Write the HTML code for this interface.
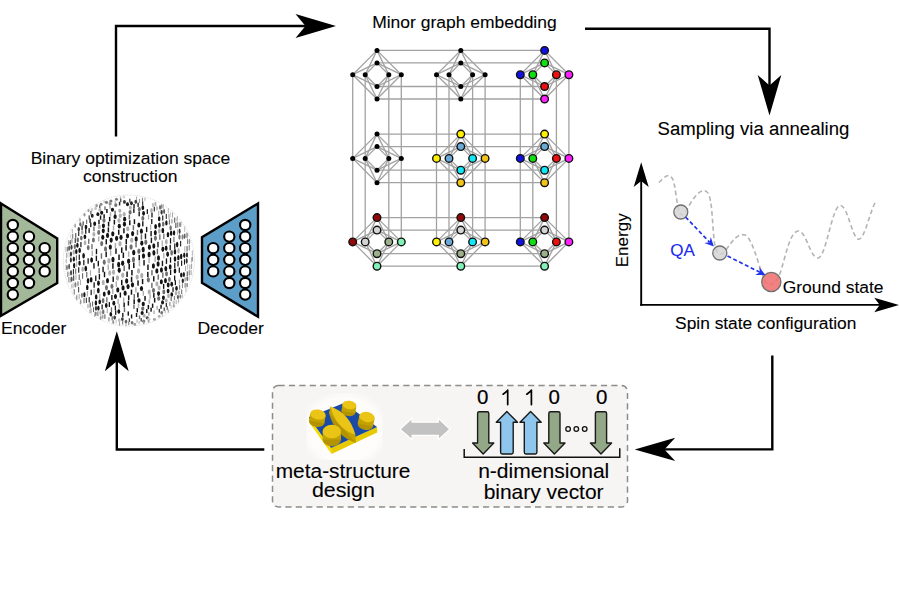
<!DOCTYPE html>
<html><head><meta charset="utf-8"><style>
html,body{margin:0;padding:0;background:#fff;width:900px;height:600px;overflow:hidden;font-family:"Liberation Sans",sans-serif;}
svg{display:block;}
</style></head><body>
<svg width="900" height="600" viewBox="0 0 900 600"><path d="M116 136.5 V26 H307" fill="none" stroke="#000" stroke-width="2.4"/>
<path d="M336.00 26.00 L295.50 37.90 L305.50 26.00 L295.50 14.10 Z" fill="#000"/>
<path d="M585 28.8 H769.5 V87" fill="none" stroke="#000" stroke-width="2.4"/>
<path d="M769.50 115.40 L757.70 74.90 L769.50 85.40 L781.30 74.90 Z" fill="#000"/>
<path d="M772.3 355.6 V449.4 H663" fill="none" stroke="#000" stroke-width="2.4"/>
<path d="M634.70 449.40 L675.20 437.70 L664.40 449.40 L675.20 461.10 Z" fill="#000"/>
<path d="M264.3 449.5 H116.8 V359" fill="none" stroke="#000" stroke-width="2.4"/>
<path d="M116.80 331.30 L128.70 371.30 L116.80 361.30 L104.90 371.30 Z" fill="#000"/>
<text transform="translate(372.19 27.90) scale(1.0105 1)" font-size="17.3" fill="#000" stroke="#000" stroke-width="0.1" font-family="Liberation Sans, sans-serif">Minor graph embedding</text>
<text transform="translate(657.56 135.00) scale(1.0423 1)" font-size="17.8" fill="#000" stroke="#000" stroke-width="0.1" font-family="Liberation Sans, sans-serif">Sampling via annealing</text>
<text transform="translate(30.68 164.40) scale(1.0186 1)" font-size="17.2" fill="#000" stroke="#000" stroke-width="0.1" font-family="Liberation Sans, sans-serif">Binary optimization space</text>
<text transform="translate(82.98 181.70) scale(1.0187 1)" font-size="17.2" fill="#000" stroke="#000" stroke-width="0.1" font-family="Liberation Sans, sans-serif">construction</text>
<text transform="translate(0.98 333.70) scale(1.0190 1)" font-size="17.2" fill="#000" stroke="#000" stroke-width="0.1" font-family="Liberation Sans, sans-serif">Encoder</text>
<text transform="translate(197.38 333.70) scale(1.0219 1)" font-size="17.2" fill="#000" stroke="#000" stroke-width="0.1" font-family="Liberation Sans, sans-serif">Decoder</text>
<polygon points="1,203.4 57.2,238.4 57.2,283.1 1,315.7" fill="#a3b898" stroke="#000" stroke-width="2.4" stroke-linejoin="miter"/>
<polygon points="258,203.5 202,237.3 202,282.8 258,316.7" fill="#5d9ec8" stroke="#000" stroke-width="2.4"/>
<circle cx="12.80" cy="225.00" r="5.15" fill="#fff" stroke="#000" stroke-width="2.1"/>
<circle cx="12.80" cy="236.60" r="5.15" fill="#fff" stroke="#000" stroke-width="2.1"/>
<circle cx="12.80" cy="248.20" r="5.15" fill="#fff" stroke="#000" stroke-width="2.1"/>
<circle cx="12.80" cy="259.80" r="5.15" fill="#fff" stroke="#000" stroke-width="2.1"/>
<circle cx="12.80" cy="271.40" r="5.15" fill="#fff" stroke="#000" stroke-width="2.1"/>
<circle cx="12.80" cy="283.00" r="5.15" fill="#fff" stroke="#000" stroke-width="2.1"/>
<circle cx="12.80" cy="294.60" r="5.15" fill="#fff" stroke="#000" stroke-width="2.1"/>
<circle cx="29.00" cy="236.60" r="5.15" fill="#fff" stroke="#000" stroke-width="2.1"/>
<circle cx="29.00" cy="248.20" r="5.15" fill="#fff" stroke="#000" stroke-width="2.1"/>
<circle cx="29.00" cy="259.80" r="5.15" fill="#fff" stroke="#000" stroke-width="2.1"/>
<circle cx="29.00" cy="271.40" r="5.15" fill="#fff" stroke="#000" stroke-width="2.1"/>
<circle cx="29.00" cy="283.00" r="5.15" fill="#fff" stroke="#000" stroke-width="2.1"/>
<circle cx="44.70" cy="248.20" r="5.15" fill="#fff" stroke="#000" stroke-width="2.1"/>
<circle cx="44.70" cy="259.80" r="5.15" fill="#fff" stroke="#000" stroke-width="2.1"/>
<circle cx="44.70" cy="271.40" r="5.15" fill="#fff" stroke="#000" stroke-width="2.1"/>
<circle cx="213.20" cy="248.20" r="5.15" fill="#fff" stroke="#000" stroke-width="2.1"/>
<circle cx="213.20" cy="259.80" r="5.15" fill="#fff" stroke="#000" stroke-width="2.1"/>
<circle cx="213.20" cy="271.40" r="5.15" fill="#fff" stroke="#000" stroke-width="2.1"/>
<circle cx="229.30" cy="236.60" r="5.15" fill="#fff" stroke="#000" stroke-width="2.1"/>
<circle cx="229.30" cy="248.20" r="5.15" fill="#fff" stroke="#000" stroke-width="2.1"/>
<circle cx="229.30" cy="259.80" r="5.15" fill="#fff" stroke="#000" stroke-width="2.1"/>
<circle cx="229.30" cy="271.40" r="5.15" fill="#fff" stroke="#000" stroke-width="2.1"/>
<circle cx="229.30" cy="283.00" r="5.15" fill="#fff" stroke="#000" stroke-width="2.1"/>
<circle cx="245.20" cy="225.00" r="5.15" fill="#fff" stroke="#000" stroke-width="2.1"/>
<circle cx="245.20" cy="236.60" r="5.15" fill="#fff" stroke="#000" stroke-width="2.1"/>
<circle cx="245.20" cy="248.20" r="5.15" fill="#fff" stroke="#000" stroke-width="2.1"/>
<circle cx="245.20" cy="259.80" r="5.15" fill="#fff" stroke="#000" stroke-width="2.1"/>
<circle cx="245.20" cy="271.40" r="5.15" fill="#fff" stroke="#000" stroke-width="2.1"/>
<circle cx="245.20" cy="283.00" r="5.15" fill="#fff" stroke="#000" stroke-width="2.1"/>
<circle cx="245.20" cy="294.60" r="5.15" fill="#fff" stroke="#000" stroke-width="2.1"/>
<g><circle cx="128.9" cy="260.6" r="65.5" fill="#fff" stroke="#d0d0d0" stroke-width="0.8" stroke-dasharray="1 1"/><rect x="103.46" y="200.25" width="1.43" height="2.72" fill="#d2d2d2"/><ellipse cx="96.63" cy="205.64" rx="1.34" ry="1.53" fill="#999999"/><ellipse cx="101.06" cy="204.29" rx="1.49" ry="1.53" fill="#868686"/><ellipse cx="106.47" cy="202.37" rx="1.58" ry="1.53" fill="#7b7b7b"/><ellipse cx="110.84" cy="200.92" rx="1.60" ry="1.53" fill="#787878"/><ellipse cx="116.46" cy="199.20" rx="1.55" ry="1.53" fill="#7f7f7f"/><rect x="119.85" y="196.57" width="1.34" height="3.05" fill="#b2b2b2"/><ellipse cx="123.98" cy="196.91" rx="1.25" ry="1.53" fill="#d2d2d2"/><ellipse cx="88.54" cy="210.61" rx="1.10" ry="1.69" fill="#a3a3a3"/><ellipse cx="91.92" cy="209.66" rx="1.27" ry="1.69" fill="#cbcbcb"/><ellipse cx="95.54" cy="208.42" rx="1.41" ry="1.69" fill="#c5c5c5"/><rect x="99.05" y="205.24" width="1.42" height="3.37" fill="#5f5f5f"/><ellipse cx="110.13" cy="203.65" rx="1.60" ry="1.69" fill="#8f8f8f"/><rect x="114.68" y="200.38" width="1.48" height="3.37" fill="#bebebe"/><rect x="120.01" y="198.78" width="1.42" height="3.37" fill="#5e5e5e"/><ellipse cx="84.51" cy="214.78" rx="1.07" ry="1.84" fill="#979797"/><rect x="90.29" y="210.94" width="1.26" height="3.68" fill="#606060"/><ellipse cx="99.83" cy="209.74" rx="1.52" ry="1.84" fill="#b6b6b6"/><rect x="104.27" y="206.36" width="1.48" height="3.68" fill="#777777"/><rect x="109.20" y="205.08" width="1.50" height="3.68" fill="#b1b1b1"/><ellipse cx="115.77" cy="205.07" rx="1.59" ry="1.84" fill="#747474"/><rect x="118.87" y="201.78" width="1.46" height="3.68" fill="#2b2b2b"/><ellipse cx="124.43" cy="201.89" rx="1.49" ry="1.84" fill="#3c3c3c"/><rect x="129.14" y="198.76" width="1.32" height="3.68" fill="#525252"/><rect x="135.97" y="196.52" width="1.08" height="3.68" fill="#aeaeae"/><ellipse cx="79.97" cy="219.93" rx="0.98" ry="1.98" fill="#bababa"/><rect x="88.58" y="215.37" width="1.26" height="3.97" fill="#424242"/><ellipse cx="92.24" cy="215.67" rx="1.43" ry="1.98" fill="#252525"/><ellipse cx="97.89" cy="214.14" rx="1.50" ry="1.98" fill="#141414"/><ellipse cx="101.70" cy="212.80" rx="1.56" ry="1.98" fill="#141414"/><rect x="106.17" y="209.00" width="1.49" height="3.97" fill="#141414"/><ellipse cx="112.44" cy="209.75" rx="1.60" ry="1.98" fill="#141414"/><ellipse cx="127.51" cy="204.32" rx="1.51" ry="1.98" fill="#141414"/><ellipse cx="131.45" cy="203.30" rx="1.43" ry="1.98" fill="#242424"/><ellipse cx="135.78" cy="201.69" rx="1.34" ry="1.98" fill="#414141"/><rect x="138.91" y="198.87" width="1.16" height="3.97" fill="#989898"/><rect x="141.90" y="197.74" width="1.05" height="3.97" fill="#7c7c7c"/><ellipse cx="144.92" cy="199.22" rx="0.98" ry="1.98" fill="#cfcfcf"/><ellipse cx="75.18" cy="225.75" rx="0.90" ry="2.12" fill="#a3a3a3"/><ellipse cx="80.35" cy="224.31" rx="1.14" ry="2.12" fill="#646464"/><rect x="82.56" y="221.30" width="1.17" height="4.24" fill="#444444"/><rect x="86.00" y="219.64" width="1.25" height="4.24" fill="#757575"/><rect x="89.43" y="218.69" width="1.33" height="4.24" fill="#141414"/><rect x="99.85" y="215.47" width="1.44" height="4.24" fill="#141414"/><rect x="103.38" y="214.31" width="1.48" height="4.24" fill="#141414"/><rect x="109.76" y="212.27" width="1.50" height="4.24" fill="#afafaf"/><rect x="114.34" y="210.68" width="1.50" height="4.24" fill="#6e6e6e"/><ellipse cx="119.83" cy="210.75" rx="1.59" ry="2.12" fill="#afafaf"/><ellipse cx="130.35" cy="207.64" rx="1.51" ry="2.12" fill="#afafaf"/><rect x="133.34" y="204.07" width="1.36" height="4.24" fill="#141414"/><rect x="137.46" y="202.67" width="1.29" height="4.24" fill="#141414"/><rect x="142.05" y="201.39" width="1.20" height="4.24" fill="#363636"/><rect x="71.88" y="229.02" width="0.81" height="4.49" fill="#a3a3a3"/><ellipse cx="78.78" cy="229.28" rx="1.19" ry="2.25" fill="#414141"/><rect x="81.46" y="225.47" width="1.20" height="4.49" fill="#191919"/><ellipse cx="85.97" cy="227.05" rx="1.36" ry="2.25" fill="#141414"/><rect x="90.12" y="222.65" width="1.34" height="4.49" fill="#141414"/><ellipse cx="94.66" cy="223.81" rx="1.49" ry="2.25" fill="#141414"/><rect x="98.24" y="219.79" width="1.44" height="4.49" fill="#141414"/><ellipse cx="103.95" cy="220.55" rx="1.57" ry="2.25" fill="#6e6e6e"/><rect x="108.92" y="216.88" width="1.49" height="4.49" fill="#141414"/><ellipse cx="115.13" cy="216.84" rx="1.60" ry="2.25" fill="#141414"/><ellipse cx="120.23" cy="215.86" rx="1.59" ry="2.25" fill="#afafaf"/><ellipse cx="124.15" cy="214.25" rx="1.57" ry="2.25" fill="#afafaf"/><ellipse cx="130.10" cy="212.37" rx="1.54" ry="2.25" fill="#6e6e6e"/><rect x="133.15" y="208.40" width="1.40" height="4.49" fill="#141414"/><ellipse cx="139.28" cy="209.36" rx="1.44" ry="2.25" fill="#6e6e6e"/><ellipse cx="142.85" cy="207.70" rx="1.37" ry="2.25" fill="#141414"/><ellipse cx="152.95" cy="205.08" rx="1.10" ry="2.25" fill="#c1c1c1"/><ellipse cx="155.45" cy="203.95" rx="0.99" ry="2.25" fill="#aaaaaa"/><rect x="70.30" y="234.16" width="0.87" height="4.72" fill="#cbcbcb"/><rect x="72.26" y="234.01" width="0.96" height="4.72" fill="#676767"/><rect x="75.24" y="233.02" width="1.05" height="4.72" fill="#454545"/><rect x="78.14" y="231.32" width="1.14" height="4.72" fill="#1d1d1d"/><ellipse cx="82.18" cy="232.47" rx="1.29" ry="2.36" fill="#afafaf"/><rect x="85.13" y="229.04" width="1.28" height="4.72" fill="#141414"/><rect x="88.46" y="228.21" width="1.34" height="4.72" fill="#141414"/><rect x="93.25" y="226.47" width="1.39" height="4.72" fill="#6e6e6e"/><ellipse cx="99.28" cy="226.91" rx="1.53" ry="2.36" fill="#afafaf"/><ellipse cx="103.44" cy="225.80" rx="1.57" ry="2.36" fill="#141414"/><rect x="107.84" y="221.83" width="1.49" height="4.72" fill="#141414"/><rect x="113.62" y="219.81" width="1.50" height="4.72" fill="#141414"/><ellipse cx="118.98" cy="220.57" rx="1.60" ry="2.36" fill="#afafaf"/><ellipse cx="124.66" cy="219.16" rx="1.59" ry="2.36" fill="#141414"/><rect x="128.63" y="214.70" width="1.47" height="4.72" fill="#6e6e6e"/><rect x="138.49" y="211.59" width="1.39" height="4.72" fill="#141414"/><ellipse cx="143.58" cy="213.35" rx="1.43" ry="2.36" fill="#141414"/><rect x="146.67" y="209.21" width="1.28" height="4.72" fill="#141414"/><ellipse cx="151.48" cy="210.31" rx="1.29" ry="2.36" fill="#afafaf"/><rect x="153.73" y="206.69" width="1.13" height="4.72" fill="#212121"/><ellipse cx="157.01" cy="208.26" rx="1.12" ry="2.36" fill="#bbbbbb"/><ellipse cx="160.08" cy="207.44" rx="1.02" ry="2.36" fill="#6a6a6a"/><ellipse cx="161.75" cy="206.55" rx="0.92" ry="2.36" fill="#8b8b8b"/><rect x="163.14" y="204.17" width="0.76" height="4.72" fill="#ababab"/><rect x="67.94" y="240.21" width="0.82" height="4.92" fill="#909090"/><ellipse cx="70.36" cy="242.39" rx="0.98" ry="2.46" fill="#6f6f6f"/><ellipse cx="71.88" cy="241.19" rx="1.07" ry="2.46" fill="#bcbcbc"/><rect x="74.69" y="238.16" width="1.08" height="4.92" fill="#262626"/><ellipse cx="77.76" cy="239.94" rx="1.23" ry="2.46" fill="#6e6e6e"/><ellipse cx="81.32" cy="238.09" rx="1.31" ry="2.46" fill="#6e6e6e"/><ellipse cx="84.92" cy="236.86" rx="1.38" ry="2.46" fill="#141414"/><ellipse cx="93.87" cy="234.36" rx="1.49" ry="2.46" fill="#afafaf"/><ellipse cx="98.72" cy="232.55" rx="1.53" ry="2.46" fill="#6e6e6e"/><ellipse cx="103.27" cy="230.85" rx="1.56" ry="2.46" fill="#141414"/><rect x="107.65" y="227.40" width="1.48" height="4.92" fill="#141414"/><rect x="112.78" y="225.47" width="1.50" height="4.92" fill="#afafaf"/><ellipse cx="119.30" cy="226.15" rx="1.60" ry="2.46" fill="#141414"/><ellipse cx="124.45" cy="224.18" rx="1.59" ry="2.46" fill="#141414"/><rect x="129.05" y="220.27" width="1.48" height="4.92" fill="#141414"/><rect x="133.72" y="219.24" width="1.45" height="4.92" fill="#141414"/><ellipse cx="142.84" cy="218.38" rx="1.47" ry="2.46" fill="#6e6e6e"/><rect x="147.89" y="214.63" width="1.32" height="4.92" fill="#afafaf"/><rect x="151.36" y="212.57" width="1.26" height="4.92" fill="#141414"/><rect x="158.13" y="210.73" width="1.13" height="4.92" fill="#afafaf"/><ellipse cx="161.62" cy="212.24" rx="1.12" ry="2.46" fill="#373737"/><ellipse cx="164.13" cy="211.55" rx="1.03" ry="2.46" fill="#5c5c5c"/><rect x="167.82" y="208.12" width="0.79" height="4.92" fill="#9e9e9e"/><rect x="65.56" y="246.89" width="0.76" height="5.09" fill="#a2a2a2"/><ellipse cx="67.69" cy="249.09" rx="0.90" ry="2.55" fill="#818181"/><ellipse cx="69.17" cy="248.12" rx="0.99" ry="2.55" fill="#5f5f5f"/><ellipse cx="71.50" cy="247.31" rx="1.08" ry="2.55" fill="#3b3b3b"/><ellipse cx="74.82" cy="246.58" rx="1.16" ry="2.55" fill="#6e6e6e"/><ellipse cx="77.41" cy="245.27" rx="1.24" ry="2.55" fill="#141414"/><rect x="80.30" y="242.07" width="1.23" height="5.09" fill="#141414"/><ellipse cx="85.02" cy="242.80" rx="1.37" ry="2.55" fill="#afafaf"/><rect x="88.06" y="238.78" width="1.34" height="5.09" fill="#6e6e6e"/><ellipse cx="93.42" cy="239.97" rx="1.48" ry="2.55" fill="#6e6e6e"/><rect x="97.97" y="236.40" width="1.42" height="5.09" fill="#afafaf"/><ellipse cx="102.77" cy="237.31" rx="1.55" ry="2.55" fill="#141414"/><ellipse cx="107.55" cy="235.39" rx="1.58" ry="2.55" fill="#141414"/><ellipse cx="112.78" cy="233.86" rx="1.59" ry="2.55" fill="#141414"/><rect x="117.97" y="229.67" width="1.50" height="5.09" fill="#141414"/><rect x="123.18" y="228.19" width="1.50" height="5.09" fill="#141414"/><ellipse cx="127.76" cy="228.77" rx="1.59" ry="2.55" fill="#afafaf"/><rect x="132.65" y="225.15" width="1.47" height="5.09" fill="#6e6e6e"/><ellipse cx="138.86" cy="225.06" rx="1.54" ry="2.55" fill="#141414"/><rect x="142.09" y="221.28" width="1.41" height="5.09" fill="#141414"/><rect x="151.11" y="218.96" width="1.31" height="5.09" fill="#141414"/><ellipse cx="159.19" cy="218.78" rx="1.28" ry="2.55" fill="#141414"/><rect x="162.18" y="215.42" width="1.13" height="5.09" fill="#141414"/><rect x="165.75" y="213.84" width="1.05" height="5.09" fill="#242424"/><rect x="168.48" y="213.73" width="0.97" height="5.09" fill="#8e8e8e"/><rect x="169.92" y="212.17" width="0.89" height="5.09" fill="#c5c5c5"/><rect x="172.09" y="212.46" width="0.81" height="5.09" fill="#919191"/><rect x="66.40" y="252.66" width="0.84" height="5.24" fill="#7e7e7e"/><rect x="68.58" y="252.14" width="0.92" height="5.24" fill="#c0c0c0"/><ellipse cx="70.97" cy="254.05" rx="1.07" ry="2.62" fill="#353535"/><ellipse cx="73.76" cy="252.34" rx="1.15" ry="2.62" fill="#afafaf"/><ellipse cx="76.29" cy="251.52" rx="1.22" ry="2.62" fill="#141414"/><ellipse cx="79.64" cy="250.46" rx="1.29" ry="2.62" fill="#141414"/><ellipse cx="88.23" cy="247.52" rx="1.41" ry="2.62" fill="#6e6e6e"/><rect x="91.29" y="244.04" width="1.37" height="5.24" fill="#6e6e6e"/><ellipse cx="101.71" cy="243.57" rx="1.54" ry="2.62" fill="#6e6e6e"/><rect x="105.54" y="239.11" width="1.47" height="5.24" fill="#141414"/><ellipse cx="111.21" cy="240.02" rx="1.58" ry="2.62" fill="#141414"/><ellipse cx="116.61" cy="238.26" rx="1.60" ry="2.62" fill="#141414"/><ellipse cx="121.00" cy="237.32" rx="1.60" ry="2.62" fill="#141414"/><ellipse cx="127.52" cy="235.78" rx="1.60" ry="2.62" fill="#141414"/><ellipse cx="132.61" cy="233.54" rx="1.58" ry="2.62" fill="#141414"/><rect x="136.73" y="229.85" width="1.46" height="5.24" fill="#6e6e6e"/><ellipse cx="141.42" cy="231.15" rx="1.53" ry="2.62" fill="#141414"/><rect x="145.93" y="226.86" width="1.40" height="5.24" fill="#141414"/><rect x="149.92" y="224.54" width="1.36" height="5.24" fill="#afafaf"/><ellipse cx="155.64" cy="226.53" rx="1.40" ry="2.62" fill="#141414"/><ellipse cx="159.38" cy="225.01" rx="1.34" ry="2.62" fill="#141414"/><ellipse cx="163.22" cy="224.05" rx="1.28" ry="2.62" fill="#6e6e6e"/><ellipse cx="166.39" cy="222.92" rx="1.21" ry="2.62" fill="#141414"/><rect x="168.86" y="219.29" width="1.06" height="5.24" fill="#6e6e6e"/><ellipse cx="171.84" cy="221.17" rx="1.06" ry="2.62" fill="#b8b8b8"/><rect x="173.96" y="217.54" width="0.91" height="5.24" fill="#606060"/><ellipse cx="176.00" cy="219.58" rx="0.89" ry="2.62" fill="#cacaca"/><rect x="176.93" y="216.09" width="0.75" height="5.24" fill="#a3a3a3"/><ellipse cx="66.29" cy="260.86" rx="0.90" ry="2.68" fill="#c8c8c8"/><ellipse cx="70.86" cy="259.93" rx="1.06" ry="2.68" fill="#313131"/><ellipse cx="73.84" cy="259.17" rx="1.14" ry="2.68" fill="#141414"/><rect x="75.84" y="255.27" width="1.13" height="5.35" fill="#6e6e6e"/><rect x="78.69" y="254.51" width="1.20" height="5.35" fill="#141414"/><ellipse cx="83.59" cy="255.73" rx="1.34" ry="2.68" fill="#141414"/><rect x="91.62" y="250.56" width="1.35" height="5.35" fill="#afafaf"/><rect x="95.79" y="248.82" width="1.39" height="5.35" fill="#141414"/><ellipse cx="105.53" cy="248.90" rx="1.55" ry="2.68" fill="#6e6e6e"/><ellipse cx="110.32" cy="247.10" rx="1.58" ry="2.68" fill="#141414"/><rect x="114.66" y="242.88" width="1.49" height="5.35" fill="#afafaf"/><ellipse cx="120.01" cy="243.60" rx="1.60" ry="2.68" fill="#afafaf"/><rect x="125.53" y="238.97" width="1.50" height="5.35" fill="#141414"/><ellipse cx="131.74" cy="240.24" rx="1.59" ry="2.68" fill="#afafaf"/><ellipse cx="136.21" cy="239.04" rx="1.58" ry="2.68" fill="#141414"/><rect x="140.71" y="234.34" width="1.45" height="5.35" fill="#6e6e6e"/><rect x="144.76" y="233.44" width="1.43" height="5.35" fill="#141414"/><rect x="150.40" y="230.93" width="1.39" height="5.35" fill="#141414"/><ellipse cx="155.32" cy="232.58" rx="1.44" ry="2.68" fill="#141414"/><ellipse cx="159.31" cy="230.96" rx="1.39" ry="2.68" fill="#afafaf"/><ellipse cx="162.84" cy="230.42" rx="1.33" ry="2.68" fill="#141414"/><ellipse cx="170.63" cy="227.82" rx="1.20" ry="2.68" fill="#6e6e6e"/><rect x="175.38" y="222.71" width="0.99" height="5.35" fill="#353535"/><rect x="177.34" y="222.18" width="0.91" height="5.35" fill="#5c5c5c"/><ellipse cx="180.06" cy="224.38" rx="0.89" ry="2.68" fill="#7e7e7e"/><rect x="180.81" y="221.26" width="0.75" height="5.35" fill="#bcbcbc"/><rect x="65.30" y="264.64" width="0.76" height="5.43" fill="#cfcfcf"/><ellipse cx="66.97" cy="267.55" rx="0.89" ry="2.72" fill="#787878"/><ellipse cx="69.17" cy="266.57" rx="0.98" ry="2.72" fill="#555555"/><ellipse cx="74.16" cy="265.46" rx="1.13" ry="2.72" fill="#141414"/><rect x="76.15" y="261.54" width="1.13" height="5.43" fill="#afafaf"/><ellipse cx="79.57" cy="263.10" rx="1.27" ry="2.72" fill="#141414"/><rect x="83.19" y="259.84" width="1.25" height="5.43" fill="#141414"/><rect x="87.49" y="258.27" width="1.30" height="5.43" fill="#141414"/><ellipse cx="91.62" cy="259.97" rx="1.43" ry="2.72" fill="#141414"/><rect x="95.69" y="255.62" width="1.39" height="5.43" fill="#141414"/><rect x="100.74" y="253.31" width="1.42" height="5.43" fill="#6e6e6e"/><rect x="105.45" y="251.67" width="1.45" height="5.43" fill="#141414"/><rect x="109.91" y="250.23" width="1.47" height="5.43" fill="#afafaf"/><rect x="115.23" y="248.42" width="1.49" height="5.43" fill="#141414"/><rect x="120.98" y="247.41" width="1.50" height="5.43" fill="#141414"/><rect x="125.33" y="245.14" width="1.50" height="5.43" fill="#141414"/><ellipse cx="131.09" cy="247.08" rx="1.59" ry="2.72" fill="#6e6e6e"/><rect x="135.30" y="241.95" width="1.48" height="5.43" fill="#6e6e6e"/><ellipse cx="141.80" cy="243.15" rx="1.56" ry="2.72" fill="#141414"/><ellipse cx="145.81" cy="242.21" rx="1.54" ry="2.72" fill="#6e6e6e"/><rect x="150.70" y="237.62" width="1.41" height="5.43" fill="#141414"/><ellipse cx="155.44" cy="238.31" rx="1.46" ry="2.72" fill="#6e6e6e"/><rect x="159.17" y="234.36" width="1.33" height="5.43" fill="#6e6e6e"/><rect x="163.18" y="233.59" width="1.28" height="5.43" fill="#6e6e6e"/><ellipse cx="167.95" cy="234.61" rx="1.31" ry="2.72" fill="#141414"/><ellipse cx="171.13" cy="233.29" rx="1.24" ry="2.72" fill="#141414"/><ellipse cx="174.08" cy="232.85" rx="1.17" ry="2.72" fill="#141414"/><rect x="176.97" y="229.34" width="1.03" height="5.43" fill="#afafaf"/><ellipse cx="179.61" cy="231.18" rx="1.02" ry="2.72" fill="#3d3d3d"/><rect x="184.40" y="226.47" width="0.73" height="5.43" fill="#a6a6a6"/><rect x="67.08" y="271.59" width="0.79" height="5.48" fill="#8c8c8c"/><ellipse cx="68.86" cy="274.08" rx="0.92" ry="2.74" fill="#c4c4c4"/><ellipse cx="71.01" cy="272.75" rx="1.00" ry="2.74" fill="#464646"/><rect x="72.89" y="269.10" width="1.01" height="5.48" fill="#181818"/><rect x="75.15" y="268.44" width="1.08" height="5.48" fill="#6e6e6e"/><rect x="78.15" y="267.23" width="1.14" height="5.48" fill="#141414"/><ellipse cx="82.64" cy="269.22" rx="1.28" ry="2.74" fill="#afafaf"/><ellipse cx="85.78" cy="268.41" rx="1.34" ry="2.74" fill="#141414"/><rect x="93.28" y="263.17" width="1.36" height="5.48" fill="#141414"/><rect x="97.62" y="260.85" width="1.39" height="5.48" fill="#141414"/><ellipse cx="104.25" cy="262.36" rx="1.52" ry="2.74" fill="#6e6e6e"/><ellipse cx="108.87" cy="260.70" rx="1.55" ry="2.74" fill="#afafaf"/><ellipse cx="112.98" cy="259.40" rx="1.57" ry="2.74" fill="#141414"/><rect x="118.27" y="254.53" width="1.49" height="5.48" fill="#141414"/><rect x="122.60" y="252.49" width="1.50" height="5.48" fill="#141414"/><rect x="127.92" y="251.37" width="1.50" height="5.48" fill="#afafaf"/><ellipse cx="133.75" cy="252.49" rx="1.59" ry="2.74" fill="#141414"/><ellipse cx="138.90" cy="251.31" rx="1.58" ry="2.74" fill="#6e6e6e"/><ellipse cx="143.20" cy="249.48" rx="1.56" ry="2.74" fill="#141414"/><ellipse cx="149.42" cy="247.33" rx="1.53" ry="2.74" fill="#141414"/><ellipse cx="153.80" cy="246.05" rx="1.50" ry="2.74" fill="#141414"/><rect x="157.29" y="241.83" width="1.37" height="5.48" fill="#141414"/><rect x="161.60" y="240.47" width="1.33" height="5.48" fill="#afafaf"/><ellipse cx="166.32" cy="241.83" rx="1.36" ry="2.74" fill="#afafaf"/><rect x="169.91" y="238.09" width="1.22" height="5.48" fill="#141414"/><rect x="173.33" y="236.79" width="1.16" height="5.48" fill="#6e6e6e"/><ellipse cx="179.50" cy="236.93" rx="1.10" ry="2.74" fill="#6e6e6e"/><ellipse cx="182.55" cy="236.92" rx="1.03" ry="2.74" fill="#828282"/><ellipse cx="184.60" cy="236.14" rx="0.95" ry="2.74" fill="#5e5e5e"/><rect x="185.83" y="232.56" width="0.81" height="5.48" fill="#818181"/><ellipse cx="187.44" cy="235.31" rx="0.79" ry="2.74" fill="#a2a2a2"/><rect x="68.03" y="276.94" width="0.76" height="5.50" fill="#989898"/><rect x="69.61" y="277.07" width="0.84" height="5.50" fill="#777777"/><ellipse cx="71.66" cy="279.32" rx="0.97" ry="2.75" fill="#535353"/><rect x="73.21" y="275.28" width="0.98" height="5.50" fill="#2b2b2b"/><rect x="75.40" y="274.44" width="1.05" height="5.50" fill="#afafaf"/><rect x="78.66" y="274.46" width="1.12" height="5.50" fill="#6e6e6e"/><rect x="81.99" y="273.20" width="1.18" height="5.50" fill="#6e6e6e"/><rect x="86.11" y="272.00" width="1.24" height="5.50" fill="#6e6e6e"/><rect x="89.84" y="270.28" width="1.29" height="5.50" fill="#afafaf"/><rect x="98.42" y="267.93" width="1.38" height="5.50" fill="#6e6e6e"/><rect x="102.35" y="266.70" width="1.41" height="5.50" fill="#141414"/><rect x="107.51" y="264.49" width="1.44" height="5.50" fill="#afafaf"/><rect x="112.18" y="263.23" width="1.47" height="5.50" fill="#141414"/><ellipse cx="118.67" cy="264.49" rx="1.58" ry="2.75" fill="#141414"/><ellipse cx="122.67" cy="263.22" rx="1.60" ry="2.75" fill="#141414"/><ellipse cx="128.63" cy="261.29" rx="1.60" ry="2.75" fill="#141414"/><ellipse cx="133.46" cy="259.61" rx="1.60" ry="2.75" fill="#6e6e6e"/><rect x="138.49" y="254.88" width="1.49" height="5.50" fill="#141414"/><ellipse cx="143.48" cy="255.97" rx="1.57" ry="2.75" fill="#141414"/><ellipse cx="149.09" cy="254.43" rx="1.55" ry="2.75" fill="#141414"/><ellipse cx="153.90" cy="252.86" rx="1.52" ry="2.75" fill="#141414"/><rect x="156.70" y="248.66" width="1.39" height="5.50" fill="#6e6e6e"/><ellipse cx="162.83" cy="249.24" rx="1.44" ry="2.75" fill="#141414"/><ellipse cx="166.14" cy="248.19" rx="1.39" ry="2.75" fill="#141414"/><rect x="169.57" y="244.82" width="1.25" height="5.50" fill="#141414"/><rect x="174.18" y="243.43" width="1.19" height="5.50" fill="#141414"/><ellipse cx="177.17" cy="244.53" rx="1.21" ry="2.75" fill="#141414"/><rect x="180.10" y="240.92" width="1.07" height="5.50" fill="#141414"/><rect x="187.11" y="238.60" width="0.85" height="5.50" fill="#6e6e6e"/><ellipse cx="189.41" cy="241.40" rx="0.83" ry="2.75" fill="#909090"/><ellipse cx="71.82" cy="286.23" rx="0.87" ry="2.74" fill="#c9c9c9"/><rect x="72.73" y="282.70" width="0.89" height="5.48" fill="#c1c1c1"/><ellipse cx="75.38" cy="284.69" rx="1.03" ry="2.74" fill="#828282"/><ellipse cx="77.92" cy="283.71" rx="1.10" ry="2.74" fill="#afafaf"/><rect x="79.92" y="279.63" width="1.10" height="5.48" fill="#afafaf"/><ellipse cx="88.02" cy="280.76" rx="1.31" ry="2.74" fill="#141414"/><ellipse cx="91.14" cy="279.80" rx="1.36" ry="2.74" fill="#141414"/><rect x="95.11" y="275.56" width="1.33" height="5.48" fill="#141414"/><rect x="98.71" y="274.04" width="1.37" height="5.48" fill="#141414"/><rect x="103.81" y="271.78" width="1.41" height="5.48" fill="#141414"/><ellipse cx="109.69" cy="273.11" rx="1.53" ry="2.74" fill="#afafaf"/><ellipse cx="113.52" cy="272.15" rx="1.56" ry="2.74" fill="#afafaf"/><ellipse cx="119.23" cy="270.30" rx="1.58" ry="2.74" fill="#141414"/><rect x="123.45" y="265.55" width="1.49" height="5.48" fill="#6e6e6e"/><rect x="128.46" y="263.93" width="1.50" height="5.48" fill="#141414"/><rect x="133.04" y="262.60" width="1.50" height="5.48" fill="#141414"/><rect x="138.68" y="260.83" width="1.49" height="5.48" fill="#afafaf"/><rect x="143.30" y="260.05" width="1.48" height="5.48" fill="#141414"/><rect x="148.38" y="257.60" width="1.45" height="5.48" fill="#afafaf"/><rect x="154.48" y="256.46" width="1.43" height="5.48" fill="#afafaf"/><ellipse cx="158.49" cy="257.89" rx="1.49" ry="2.74" fill="#141414"/><rect x="163.14" y="252.93" width="1.35" height="5.48" fill="#afafaf"/><ellipse cx="167.64" cy="254.23" rx="1.40" ry="2.74" fill="#141414"/><ellipse cx="171.67" cy="252.86" rx="1.34" ry="2.74" fill="#6e6e6e"/><ellipse cx="174.96" cy="251.72" rx="1.28" ry="2.74" fill="#141414"/><ellipse cx="178.53" cy="250.72" rx="1.22" ry="2.74" fill="#afafaf"/><rect x="184.30" y="246.19" width="1.01" height="5.48" fill="#b0b0b0"/><rect x="186.58" y="246.01" width="0.94" height="5.48" fill="#464646"/><rect x="188.78" y="244.85" width="0.86" height="5.48" fill="#6b6b6b"/><rect x="72.84" y="288.92" width="0.74" height="5.43" fill="#bdbdbd"/><rect x="74.03" y="289.21" width="0.82" height="5.43" fill="#808080"/><rect x="78.17" y="287.03" width="0.97" height="5.43" fill="#373737"/><ellipse cx="87.26" cy="287.39" rx="1.25" ry="2.72" fill="#141414"/><rect x="93.48" y="282.34" width="1.29" height="5.43" fill="#141414"/><ellipse cx="98.47" cy="283.21" rx="1.42" ry="2.72" fill="#141414"/><ellipse cx="103.28" cy="282.40" rx="1.47" ry="2.72" fill="#afafaf"/><ellipse cx="107.50" cy="280.62" rx="1.51" ry="2.72" fill="#141414"/><rect x="112.47" y="276.50" width="1.44" height="5.43" fill="#141414"/><ellipse cx="117.44" cy="278.09" rx="1.57" ry="2.72" fill="#afafaf"/><ellipse cx="122.74" cy="275.22" rx="1.58" ry="2.72" fill="#afafaf"/><rect x="126.32" y="271.55" width="1.50" height="5.43" fill="#141414"/><rect x="131.17" y="269.98" width="1.50" height="5.43" fill="#141414"/><ellipse cx="138.55" cy="270.98" rx="1.60" ry="2.72" fill="#afafaf"/><rect x="147.24" y="264.56" width="1.47" height="5.43" fill="#141414"/><ellipse cx="153.42" cy="265.95" rx="1.54" ry="2.72" fill="#141414"/><ellipse cx="158.10" cy="264.02" rx="1.51" ry="2.72" fill="#141414"/><rect x="161.75" y="260.72" width="1.38" height="5.43" fill="#141414"/><rect x="165.79" y="258.41" width="1.34" height="5.43" fill="#141414"/><rect x="169.87" y="257.27" width="1.29" height="5.43" fill="#141414"/><ellipse cx="175.01" cy="258.92" rx="1.32" ry="2.72" fill="#141414"/><ellipse cx="178.39" cy="257.64" rx="1.26" ry="2.72" fill="#141414"/><ellipse cx="181.19" cy="256.46" rx="1.19" ry="2.72" fill="#141414"/><ellipse cx="184.28" cy="255.17" rx="1.12" ry="2.72" fill="#141414"/><ellipse cx="187.00" cy="254.88" rx="1.04" ry="2.72" fill="#343434"/><rect x="191.88" y="250.39" width="0.75" height="5.43" fill="#9e9e9e"/><ellipse cx="76.61" cy="297.48" rx="0.80" ry="2.68" fill="#a0a0a0"/><rect x="77.70" y="294.28" width="0.83" height="5.35" fill="#c9c9c9"/><rect x="79.05" y="293.89" width="0.91" height="5.35" fill="#c0c0c0"/><ellipse cx="81.94" cy="295.36" rx="1.05" ry="2.68" fill="#818181"/><ellipse cx="84.40" cy="294.60" rx="1.12" ry="2.68" fill="#141414"/><rect x="86.85" y="291.07" width="1.12" height="5.35" fill="#afafaf"/><rect x="90.58" y="289.78" width="1.19" height="5.35" fill="#141414"/><rect x="93.46" y="288.93" width="1.25" height="5.35" fill="#afafaf"/><ellipse cx="98.30" cy="290.55" rx="1.39" ry="2.68" fill="#141414"/><ellipse cx="106.46" cy="287.57" rx="1.48" ry="2.68" fill="#6e6e6e"/><ellipse cx="111.93" cy="286.31" rx="1.52" ry="2.68" fill="#6e6e6e"/><rect x="115.58" y="281.44" width="1.45" height="5.35" fill="#afafaf"/><rect x="121.01" y="279.88" width="1.48" height="5.35" fill="#141414"/><ellipse cx="126.65" cy="281.02" rx="1.59" ry="2.68" fill="#141414"/><rect x="130.84" y="276.80" width="1.50" height="5.35" fill="#141414"/><ellipse cx="137.14" cy="277.12" rx="1.60" ry="2.68" fill="#afafaf"/><ellipse cx="141.77" cy="275.54" rx="1.59" ry="2.68" fill="#afafaf"/><rect x="147.08" y="271.84" width="1.48" height="5.35" fill="#141414"/><rect x="151.22" y="270.04" width="1.46" height="5.35" fill="#6e6e6e"/><ellipse cx="156.87" cy="270.93" rx="1.53" ry="2.68" fill="#141414"/><ellipse cx="161.44" cy="269.97" rx="1.49" ry="2.68" fill="#141414"/><ellipse cx="165.81" cy="268.62" rx="1.45" ry="2.68" fill="#141414"/><ellipse cx="170.21" cy="266.84" rx="1.40" ry="2.68" fill="#141414"/><rect x="174.15" y="262.70" width="1.26" height="5.35" fill="#141414"/><rect x="177.42" y="261.09" width="1.20" height="5.35" fill="#141414"/><rect x="181.05" y="260.53" width="1.13" height="5.35" fill="#141414"/><rect x="183.93" y="259.25" width="1.07" height="5.35" fill="#141414"/><ellipse cx="186.66" cy="260.95" rx="1.06" ry="2.68" fill="#303030"/><rect x="190.93" y="257.33" width="0.84" height="5.35" fill="#a7a7a7"/><ellipse cx="192.33" cy="259.04" rx="0.81" ry="2.68" fill="#9b9b9b"/><ellipse cx="80.70" cy="301.78" rx="0.83" ry="2.62" fill="#989898"/><rect x="83.56" y="298.04" width="0.94" height="5.24" fill="#545454"/><rect x="85.83" y="297.70" width="1.02" height="5.24" fill="#2d2d2d"/><rect x="88.64" y="297.12" width="1.09" height="5.24" fill="#141414"/><ellipse cx="96.18" cy="296.89" rx="1.30" ry="2.62" fill="#141414"/><rect x="99.08" y="293.70" width="1.28" height="5.24" fill="#afafaf"/><ellipse cx="104.25" cy="294.06" rx="1.42" ry="2.62" fill="#141414"/><ellipse cx="108.86" cy="292.62" rx="1.47" ry="2.62" fill="#141414"/><rect x="112.04" y="288.64" width="1.42" height="5.24" fill="#afafaf"/><ellipse cx="117.80" cy="289.90" rx="1.54" ry="2.62" fill="#141414"/><ellipse cx="123.06" cy="287.90" rx="1.57" ry="2.62" fill="#141414"/><ellipse cx="128.05" cy="286.59" rx="1.59" ry="2.62" fill="#141414"/><ellipse cx="132.47" cy="284.80" rx="1.60" ry="2.62" fill="#141414"/><rect x="137.28" y="280.41" width="1.50" height="5.24" fill="#141414"/><rect x="141.83" y="278.88" width="1.49" height="5.24" fill="#141414"/><ellipse cx="148.35" cy="279.87" rx="1.58" ry="2.62" fill="#6e6e6e"/><rect x="153.04" y="276.17" width="1.46" height="5.24" fill="#141414"/><rect x="157.53" y="274.49" width="1.43" height="5.24" fill="#6e6e6e"/><rect x="162.10" y="272.52" width="1.39" height="5.24" fill="#6e6e6e"/><ellipse cx="166.54" cy="273.77" rx="1.44" ry="2.62" fill="#6e6e6e"/><rect x="169.94" y="269.74" width="1.30" height="5.24" fill="#141414"/><ellipse cx="174.97" cy="270.94" rx="1.33" ry="2.62" fill="#141414"/><rect x="178.69" y="267.54" width="1.19" height="5.24" fill="#141414"/><rect x="185.02" y="265.75" width="1.05" height="5.24" fill="#afafaf"/><rect x="187.17" y="264.21" width="0.97" height="5.24" fill="#bababa"/><rect x="189.43" y="264.50" width="0.90" height="5.24" fill="#9d9d9d"/><rect x="191.27" y="263.72" width="0.81" height="5.24" fill="#898989"/><ellipse cx="87.96" cy="306.10" rx="0.98" ry="2.55" fill="#c2c2c2"/><rect x="89.64" y="302.55" width="1.00" height="5.09" fill="#414141"/><rect x="92.02" y="301.39" width="1.08" height="5.09" fill="#6e6e6e"/><ellipse cx="95.91" cy="302.89" rx="1.23" ry="2.55" fill="#141414"/><ellipse cx="99.72" cy="301.78" rx="1.30" ry="2.55" fill="#141414"/><ellipse cx="103.12" cy="300.65" rx="1.36" ry="2.55" fill="#6e6e6e"/><rect x="106.18" y="297.27" width="1.33" height="5.09" fill="#6e6e6e"/><rect x="111.20" y="295.01" width="1.38" height="5.09" fill="#141414"/><ellipse cx="115.50" cy="296.57" rx="1.51" ry="2.55" fill="#141414"/><rect x="119.64" y="292.49" width="1.45" height="5.09" fill="#141414"/><ellipse cx="125.13" cy="293.14" rx="1.57" ry="2.55" fill="#141414"/><rect x="130.72" y="289.62" width="1.49" height="5.09" fill="#141414"/><rect x="135.14" y="287.29" width="1.50" height="5.09" fill="#afafaf"/><ellipse cx="141.49" cy="288.51" rx="1.60" ry="2.55" fill="#141414"/><rect x="151.15" y="282.82" width="1.47" height="5.09" fill="#6e6e6e"/><ellipse cx="156.93" cy="283.83" rx="1.54" ry="2.55" fill="#afafaf"/><ellipse cx="161.34" cy="281.72" rx="1.51" ry="2.55" fill="#141414"/><ellipse cx="165.48" cy="280.63" rx="1.46" ry="2.55" fill="#141414"/><ellipse cx="169.42" cy="279.37" rx="1.41" ry="2.55" fill="#6e6e6e"/><rect x="174.02" y="275.54" width="1.27" height="5.09" fill="#141414"/><ellipse cx="181.27" cy="275.07" rx="1.21" ry="2.55" fill="#141414"/><ellipse cx="183.83" cy="274.54" rx="1.14" ry="2.55" fill="#1c1c1c"/><rect x="186.75" y="271.35" width="0.99" height="5.09" fill="#474747"/><rect x="188.75" y="270.33" width="0.91" height="5.09" fill="#6a6a6a"/><rect x="190.66" y="270.08" width="0.82" height="5.09" fill="#8c8c8c"/><ellipse cx="89.89" cy="311.35" rx="0.83" ry="2.46" fill="#d1d1d1"/><rect x="90.57" y="308.21" width="0.87" height="4.92" fill="#7f7f7f"/><rect x="93.08" y="307.18" width="0.96" height="4.92" fill="#5d5d5d"/><ellipse cx="95.95" cy="308.38" rx="1.11" ry="2.46" fill="#393939"/><ellipse cx="98.39" cy="308.26" rx="1.20" ry="2.46" fill="#141414"/><rect x="101.53" y="304.48" width="1.20" height="4.92" fill="#141414"/><ellipse cx="106.25" cy="305.58" rx="1.35" ry="2.46" fill="#141414"/><rect x="108.68" y="302.10" width="1.32" height="4.92" fill="#141414"/><ellipse cx="113.83" cy="303.15" rx="1.46" ry="2.46" fill="#141414"/><rect x="117.43" y="299.11" width="1.42" height="4.92" fill="#afafaf"/><rect x="122.95" y="297.64" width="1.45" height="4.92" fill="#afafaf"/><rect x="127.95" y="295.36" width="1.48" height="4.92" fill="#141414"/><rect x="133.51" y="294.04" width="1.49" height="4.92" fill="#6e6e6e"/><rect x="137.16" y="292.51" width="1.50" height="4.92" fill="#141414"/><rect x="142.55" y="290.82" width="1.50" height="4.92" fill="#afafaf"/><ellipse cx="149.19" cy="291.98" rx="1.58" ry="2.46" fill="#afafaf"/><ellipse cx="153.49" cy="290.45" rx="1.56" ry="2.46" fill="#6e6e6e"/><ellipse cx="159.12" cy="287.96" rx="1.53" ry="2.46" fill="#afafaf"/><rect x="162.93" y="283.95" width="1.40" height="4.92" fill="#141414"/><ellipse cx="168.20" cy="285.00" rx="1.44" ry="2.46" fill="#141414"/><ellipse cx="171.74" cy="284.20" rx="1.38" ry="2.46" fill="#141414"/><rect x="174.74" y="280.21" width="1.23" height="4.92" fill="#141414"/><rect x="178.81" y="279.51" width="1.16" height="4.92" fill="#afafaf"/><ellipse cx="182.78" cy="280.87" rx="1.16" ry="2.46" fill="#242424"/><ellipse cx="185.20" cy="279.51" rx="1.07" ry="2.46" fill="#bcbcbc"/><ellipse cx="187.34" cy="278.85" rx="0.98" ry="2.46" fill="#6e6e6e"/><rect x="189.03" y="275.68" width="0.83" height="4.92" fill="#cdcdcd"/><rect x="94.05" y="312.27" width="0.77" height="4.72" fill="#a8a8a8"/><ellipse cx="95.78" cy="313.83" rx="0.93" ry="2.36" fill="#888888"/><rect x="97.41" y="311.43" width="0.97" height="4.72" fill="#676767"/><ellipse cx="100.47" cy="312.85" rx="1.13" ry="2.36" fill="#bababa"/><ellipse cx="103.23" cy="311.95" rx="1.21" ry="2.36" fill="#727272"/><rect x="106.66" y="308.35" width="1.21" height="4.72" fill="#afafaf"/><rect x="110.83" y="307.28" width="1.28" height="4.72" fill="#6e6e6e"/><rect x="114.70" y="305.59" width="1.34" height="4.72" fill="#141414"/><rect x="118.56" y="303.88" width="1.39" height="4.72" fill="#afafaf"/><rect x="123.43" y="302.60" width="1.44" height="4.72" fill="#141414"/><rect x="127.68" y="300.86" width="1.47" height="4.72" fill="#141414"/><rect x="133.42" y="299.28" width="1.49" height="4.72" fill="#141414"/><ellipse cx="139.00" cy="300.49" rx="1.60" ry="2.36" fill="#141414"/><rect x="144.28" y="296.03" width="1.50" height="4.72" fill="#141414"/><rect x="149.41" y="294.14" width="1.49" height="4.72" fill="#afafaf"/><rect x="153.11" y="293.07" width="1.46" height="4.72" fill="#141414"/><ellipse cx="158.57" cy="293.57" rx="1.53" ry="2.36" fill="#141414"/><ellipse cx="163.80" cy="291.91" rx="1.48" ry="2.36" fill="#6e6e6e"/><ellipse cx="168.12" cy="291.03" rx="1.43" ry="2.36" fill="#141414"/><rect x="172.40" y="287.22" width="1.28" height="4.72" fill="#141414"/><ellipse cx="176.49" cy="288.45" rx="1.29" ry="2.36" fill="#141414"/><rect x="179.07" y="284.94" width="1.13" height="4.72" fill="#757575"/><rect x="181.91" y="283.35" width="1.05" height="4.72" fill="#8b8b8b"/><rect x="184.61" y="282.92" width="0.96" height="4.72" fill="#6b6b6b"/><ellipse cx="187.10" cy="285.06" rx="0.92" ry="2.36" fill="#8b8b8b"/><ellipse cx="100.66" cy="317.74" rx="0.89" ry="2.25" fill="#9c9c9c"/><ellipse cx="102.62" cy="316.84" rx="1.00" ry="2.25" fill="#a8a8a8"/><rect x="104.38" y="314.32" width="1.04" height="4.49" fill="#5b5b5b"/><ellipse cx="110.82" cy="314.37" rx="1.30" ry="2.25" fill="#141414"/><rect x="115.05" y="310.31" width="1.29" height="4.49" fill="#141414"/><ellipse cx="118.80" cy="311.40" rx="1.44" ry="2.25" fill="#141414"/><rect x="123.76" y="307.59" width="1.41" height="4.49" fill="#6e6e6e"/><rect x="133.21" y="304.40" width="1.48" height="4.49" fill="#6e6e6e"/><rect x="137.77" y="303.42" width="1.50" height="4.49" fill="#afafaf"/><ellipse cx="143.27" cy="304.06" rx="1.60" ry="2.25" fill="#141414"/><rect x="148.61" y="299.23" width="1.49" height="4.49" fill="#afafaf"/><rect x="153.92" y="298.02" width="1.47" height="4.49" fill="#141414"/><ellipse cx="158.69" cy="298.59" rx="1.53" ry="2.25" fill="#6e6e6e"/><ellipse cx="163.41" cy="297.75" rx="1.48" ry="2.25" fill="#141414"/><ellipse cx="168.52" cy="295.98" rx="1.42" ry="2.25" fill="#afafaf"/><ellipse cx="171.75" cy="294.44" rx="1.35" ry="2.25" fill="#141414"/><ellipse cx="175.97" cy="293.31" rx="1.27" ry="2.25" fill="#b1b1b1"/><ellipse cx="178.87" cy="292.63" rx="1.18" ry="2.25" fill="#bababa"/><rect x="181.18" y="289.45" width="1.01" height="4.49" fill="#666666"/><rect x="185.55" y="287.42" width="0.80" height="4.49" fill="#a6a6a6"/><rect x="108.44" y="317.19" width="1.00" height="4.24" fill="#797979"/><rect x="111.61" y="316.21" width="1.10" height="4.24" fill="#595959"/><ellipse cx="114.66" cy="317.61" rx="1.28" ry="2.12" fill="#393939"/><rect x="122.14" y="312.90" width="1.35" height="4.24" fill="#141414"/><rect x="127.56" y="311.44" width="1.41" height="4.24" fill="#141414"/><rect x="136.56" y="308.12" width="1.49" height="4.24" fill="#141414"/><ellipse cx="142.74" cy="308.68" rx="1.60" ry="2.12" fill="#6e6e6e"/><rect x="147.62" y="304.91" width="1.50" height="4.24" fill="#141414"/><rect x="151.88" y="303.61" width="1.48" height="4.24" fill="#141414"/><ellipse cx="162.55" cy="302.46" rx="1.49" ry="2.12" fill="#141414"/><ellipse cx="166.34" cy="300.63" rx="1.42" ry="2.12" fill="#afafaf"/><rect x="170.55" y="296.82" width="1.26" height="4.24" fill="#737373"/><rect x="173.89" y="295.97" width="1.17" height="4.24" fill="#878787"/><ellipse cx="177.94" cy="297.12" rx="1.15" ry="2.12" fill="#616161"/><ellipse cx="180.40" cy="296.51" rx="1.03" ry="2.12" fill="#818181"/><rect x="181.91" y="293.65" width="0.86" height="4.24" fill="#bcbcbc"/><ellipse cx="113.20" cy="321.93" rx="1.02" ry="1.98" fill="#939393"/><rect x="115.59" y="319.48" width="1.07" height="3.97" fill="#c6c6c6"/><ellipse cx="119.21" cy="320.34" rx="1.26" ry="1.98" fill="#bfbfbf"/><ellipse cx="122.39" cy="319.12" rx="1.37" ry="1.98" fill="#3b3b3b"/><rect x="130.87" y="314.45" width="1.42" height="3.97" fill="#141414"/><rect x="135.80" y="312.98" width="1.47" height="3.97" fill="#141414"/><ellipse cx="142.14" cy="312.98" rx="1.59" ry="1.98" fill="#141414"/><rect x="145.99" y="309.12" width="1.50" height="3.97" fill="#141414"/><rect x="150.34" y="307.68" width="1.48" height="3.97" fill="#141414"/><rect x="156.38" y="305.78" width="1.45" height="3.97" fill="#afafaf"/><rect x="160.34" y="304.76" width="1.40" height="3.97" fill="#141414"/><rect x="165.70" y="303.02" width="1.32" height="3.97" fill="#2c2c2c"/><rect x="169.23" y="301.96" width="1.23" height="3.97" fill="#8b8b8b"/><ellipse cx="173.68" cy="302.43" rx="1.21" ry="1.98" fill="#c3c3c3"/><rect x="175.67" y="300.09" width="1.02" height="3.97" fill="#adadad"/><rect x="177.93" y="298.72" width="0.89" height="3.97" fill="#a2a2a2"/><rect x="119.10" y="322.04" width="0.98" height="3.68" fill="#9c9c9c"/><rect x="122.09" y="320.91" width="1.12" height="3.68" fill="#7f7f7f"/><ellipse cx="125.99" cy="321.59" rx="1.32" ry="1.84" fill="#646464"/><rect x="128.72" y="318.35" width="1.34" height="3.68" fill="#4c4c4c"/><rect x="138.76" y="315.46" width="1.47" height="3.68" fill="#787878"/><ellipse cx="144.15" cy="315.71" rx="1.60" ry="1.84" fill="#b1b1b1"/><rect x="148.07" y="312.20" width="1.50" height="3.68" fill="#b1b1b1"/><rect x="153.33" y="310.45" width="1.47" height="3.68" fill="#b4b4b4"/><rect x="158.64" y="308.89" width="1.41" height="3.68" fill="#393939"/><rect x="163.58" y="307.48" width="1.33" height="3.68" fill="#4e4e4e"/><rect x="166.62" y="306.34" width="1.23" height="3.68" fill="#676767"/><rect x="170.60" y="304.96" width="1.11" height="3.68" fill="#c9c9c9"/><ellipse cx="173.75" cy="305.76" rx="1.03" ry="1.84" fill="#9f9f9f"/><rect x="125.43" y="322.83" width="1.02" height="3.37" fill="#a6a6a6"/><rect x="128.12" y="321.73" width="1.18" height="3.37" fill="#8b8b8b"/><ellipse cx="132.09" cy="322.76" rx="1.40" ry="1.69" fill="#747474"/><rect x="136.39" y="319.32" width="1.41" height="3.37" fill="#c1c1c1"/><rect x="140.48" y="318.10" width="1.47" height="3.37" fill="#545454"/><ellipse cx="147.27" cy="317.84" rx="1.60" ry="1.69" fill="#4f4f4f"/><ellipse cx="161.74" cy="312.80" rx="1.43" ry="1.69" fill="#6e6e6e"/><rect x="164.71" y="309.88" width="1.21" height="3.37" fill="#cacaca"/><rect x="167.75" y="309.25" width="1.06" height="3.37" fill="#9f9f9f"/><ellipse cx="134.82" cy="324.21" rx="1.34" ry="1.53" fill="#999999"/><rect x="138.46" y="321.05" width="1.40" height="3.05" fill="#cacaca"/><ellipse cx="143.70" cy="321.15" rx="1.58" ry="1.53" fill="#7b7b7b"/><ellipse cx="148.76" cy="319.37" rx="1.60" ry="1.53" fill="#c7c7c7"/><ellipse cx="159.21" cy="316.30" rx="1.42" ry="1.53" fill="#b3b3b3"/><rect x="161.83" y="313.49" width="1.17" height="3.05" fill="#bfbfbf"/><rect x="143.05" y="321.44" width="1.44" height="2.72" fill="#a4a4a4"/><rect x="147.83" y="319.96" width="1.50" height="2.72" fill="#9f9f9f"/><ellipse cx="154.43" cy="319.40" rx="1.52" ry="1.36" fill="#a5a5a5"/></g>
<g stroke="#a2a2a2" stroke-width="1.3"><line x1="377.0" y1="50.4" x2="544.6" y2="50.4"/><line x1="377.0" y1="62.9" x2="544.6" y2="62.9"/><line x1="377.0" y1="86.5" x2="544.6" y2="86.5"/><line x1="377.0" y1="99.0" x2="544.6" y2="99.0"/><line x1="377.0" y1="134.1" x2="544.6" y2="134.1"/><line x1="377.0" y1="146.6" x2="544.6" y2="146.6"/><line x1="377.0" y1="170.2" x2="544.6" y2="170.2"/><line x1="377.0" y1="182.7" x2="544.6" y2="182.7"/><line x1="377.0" y1="217.6" x2="544.6" y2="217.6"/><line x1="377.0" y1="230.1" x2="544.6" y2="230.1"/><line x1="377.0" y1="253.7" x2="544.6" y2="253.7"/><line x1="377.0" y1="266.2" x2="544.6" y2="266.2"/><line x1="352.7" y1="74.7" x2="352.7" y2="241.9"/><line x1="365.2" y1="74.7" x2="365.2" y2="241.9"/><line x1="388.8" y1="74.7" x2="388.8" y2="241.9"/><line x1="401.3" y1="74.7" x2="401.3" y2="241.9"/><line x1="436.5" y1="74.7" x2="436.5" y2="241.9"/><line x1="449.0" y1="74.7" x2="449.0" y2="241.9"/><line x1="472.6" y1="74.7" x2="472.6" y2="241.9"/><line x1="485.1" y1="74.7" x2="485.1" y2="241.9"/><line x1="520.3" y1="74.7" x2="520.3" y2="241.9"/><line x1="532.8" y1="74.7" x2="532.8" y2="241.9"/><line x1="556.4" y1="74.7" x2="556.4" y2="241.9"/><line x1="568.9" y1="74.7" x2="568.9" y2="241.9"/><line x1="377.0" y1="50.4" x2="352.7" y2="74.7"/><line x1="377.0" y1="50.4" x2="365.2" y2="74.7"/><line x1="377.0" y1="50.4" x2="388.8" y2="74.7"/><line x1="377.0" y1="50.4" x2="401.3" y2="74.7"/><line x1="377.0" y1="62.9" x2="352.7" y2="74.7"/><line x1="377.0" y1="62.9" x2="365.2" y2="74.7"/><line x1="377.0" y1="62.9" x2="388.8" y2="74.7"/><line x1="377.0" y1="62.9" x2="401.3" y2="74.7"/><line x1="377.0" y1="86.5" x2="352.7" y2="74.7"/><line x1="377.0" y1="86.5" x2="365.2" y2="74.7"/><line x1="377.0" y1="86.5" x2="388.8" y2="74.7"/><line x1="377.0" y1="86.5" x2="401.3" y2="74.7"/><line x1="377.0" y1="99.0" x2="352.7" y2="74.7"/><line x1="377.0" y1="99.0" x2="365.2" y2="74.7"/><line x1="377.0" y1="99.0" x2="388.8" y2="74.7"/><line x1="377.0" y1="99.0" x2="401.3" y2="74.7"/><line x1="377.0" y1="134.1" x2="352.7" y2="158.4"/><line x1="377.0" y1="134.1" x2="365.2" y2="158.4"/><line x1="377.0" y1="134.1" x2="388.8" y2="158.4"/><line x1="377.0" y1="134.1" x2="401.3" y2="158.4"/><line x1="377.0" y1="146.6" x2="352.7" y2="158.4"/><line x1="377.0" y1="146.6" x2="365.2" y2="158.4"/><line x1="377.0" y1="146.6" x2="388.8" y2="158.4"/><line x1="377.0" y1="146.6" x2="401.3" y2="158.4"/><line x1="377.0" y1="170.2" x2="352.7" y2="158.4"/><line x1="377.0" y1="170.2" x2="365.2" y2="158.4"/><line x1="377.0" y1="170.2" x2="388.8" y2="158.4"/><line x1="377.0" y1="170.2" x2="401.3" y2="158.4"/><line x1="377.0" y1="182.7" x2="352.7" y2="158.4"/><line x1="377.0" y1="182.7" x2="365.2" y2="158.4"/><line x1="377.0" y1="182.7" x2="388.8" y2="158.4"/><line x1="377.0" y1="182.7" x2="401.3" y2="158.4"/><line x1="377.0" y1="217.6" x2="352.7" y2="241.9"/><line x1="377.0" y1="217.6" x2="365.2" y2="241.9"/><line x1="377.0" y1="217.6" x2="388.8" y2="241.9"/><line x1="377.0" y1="217.6" x2="401.3" y2="241.9"/><line x1="377.0" y1="230.1" x2="352.7" y2="241.9"/><line x1="377.0" y1="230.1" x2="365.2" y2="241.9"/><line x1="377.0" y1="230.1" x2="388.8" y2="241.9"/><line x1="377.0" y1="230.1" x2="401.3" y2="241.9"/><line x1="377.0" y1="253.7" x2="352.7" y2="241.9"/><line x1="377.0" y1="253.7" x2="365.2" y2="241.9"/><line x1="377.0" y1="253.7" x2="388.8" y2="241.9"/><line x1="377.0" y1="253.7" x2="401.3" y2="241.9"/><line x1="377.0" y1="266.2" x2="352.7" y2="241.9"/><line x1="377.0" y1="266.2" x2="365.2" y2="241.9"/><line x1="377.0" y1="266.2" x2="388.8" y2="241.9"/><line x1="377.0" y1="266.2" x2="401.3" y2="241.9"/><line x1="460.8" y1="50.4" x2="436.5" y2="74.7"/><line x1="460.8" y1="50.4" x2="449.0" y2="74.7"/><line x1="460.8" y1="50.4" x2="472.6" y2="74.7"/><line x1="460.8" y1="50.4" x2="485.1" y2="74.7"/><line x1="460.8" y1="62.9" x2="436.5" y2="74.7"/><line x1="460.8" y1="62.9" x2="449.0" y2="74.7"/><line x1="460.8" y1="62.9" x2="472.6" y2="74.7"/><line x1="460.8" y1="62.9" x2="485.1" y2="74.7"/><line x1="460.8" y1="86.5" x2="436.5" y2="74.7"/><line x1="460.8" y1="86.5" x2="449.0" y2="74.7"/><line x1="460.8" y1="86.5" x2="472.6" y2="74.7"/><line x1="460.8" y1="86.5" x2="485.1" y2="74.7"/><line x1="460.8" y1="99.0" x2="436.5" y2="74.7"/><line x1="460.8" y1="99.0" x2="449.0" y2="74.7"/><line x1="460.8" y1="99.0" x2="472.6" y2="74.7"/><line x1="460.8" y1="99.0" x2="485.1" y2="74.7"/><line x1="460.8" y1="134.1" x2="436.5" y2="158.4"/><line x1="460.8" y1="134.1" x2="449.0" y2="158.4"/><line x1="460.8" y1="134.1" x2="472.6" y2="158.4"/><line x1="460.8" y1="134.1" x2="485.1" y2="158.4"/><line x1="460.8" y1="146.6" x2="436.5" y2="158.4"/><line x1="460.8" y1="146.6" x2="449.0" y2="158.4"/><line x1="460.8" y1="146.6" x2="472.6" y2="158.4"/><line x1="460.8" y1="146.6" x2="485.1" y2="158.4"/><line x1="460.8" y1="170.2" x2="436.5" y2="158.4"/><line x1="460.8" y1="170.2" x2="449.0" y2="158.4"/><line x1="460.8" y1="170.2" x2="472.6" y2="158.4"/><line x1="460.8" y1="170.2" x2="485.1" y2="158.4"/><line x1="460.8" y1="182.7" x2="436.5" y2="158.4"/><line x1="460.8" y1="182.7" x2="449.0" y2="158.4"/><line x1="460.8" y1="182.7" x2="472.6" y2="158.4"/><line x1="460.8" y1="182.7" x2="485.1" y2="158.4"/><line x1="460.8" y1="217.6" x2="436.5" y2="241.9"/><line x1="460.8" y1="217.6" x2="449.0" y2="241.9"/><line x1="460.8" y1="217.6" x2="472.6" y2="241.9"/><line x1="460.8" y1="217.6" x2="485.1" y2="241.9"/><line x1="460.8" y1="230.1" x2="436.5" y2="241.9"/><line x1="460.8" y1="230.1" x2="449.0" y2="241.9"/><line x1="460.8" y1="230.1" x2="472.6" y2="241.9"/><line x1="460.8" y1="230.1" x2="485.1" y2="241.9"/><line x1="460.8" y1="253.7" x2="436.5" y2="241.9"/><line x1="460.8" y1="253.7" x2="449.0" y2="241.9"/><line x1="460.8" y1="253.7" x2="472.6" y2="241.9"/><line x1="460.8" y1="253.7" x2="485.1" y2="241.9"/><line x1="460.8" y1="266.2" x2="436.5" y2="241.9"/><line x1="460.8" y1="266.2" x2="449.0" y2="241.9"/><line x1="460.8" y1="266.2" x2="472.6" y2="241.9"/><line x1="460.8" y1="266.2" x2="485.1" y2="241.9"/><line x1="544.6" y1="50.4" x2="520.3" y2="74.7"/><line x1="544.6" y1="50.4" x2="532.8" y2="74.7"/><line x1="544.6" y1="50.4" x2="556.4" y2="74.7"/><line x1="544.6" y1="50.4" x2="568.9" y2="74.7"/><line x1="544.6" y1="62.9" x2="520.3" y2="74.7"/><line x1="544.6" y1="62.9" x2="532.8" y2="74.7"/><line x1="544.6" y1="62.9" x2="556.4" y2="74.7"/><line x1="544.6" y1="62.9" x2="568.9" y2="74.7"/><line x1="544.6" y1="86.5" x2="520.3" y2="74.7"/><line x1="544.6" y1="86.5" x2="532.8" y2="74.7"/><line x1="544.6" y1="86.5" x2="556.4" y2="74.7"/><line x1="544.6" y1="86.5" x2="568.9" y2="74.7"/><line x1="544.6" y1="99.0" x2="520.3" y2="74.7"/><line x1="544.6" y1="99.0" x2="532.8" y2="74.7"/><line x1="544.6" y1="99.0" x2="556.4" y2="74.7"/><line x1="544.6" y1="99.0" x2="568.9" y2="74.7"/><line x1="544.6" y1="134.1" x2="520.3" y2="158.4"/><line x1="544.6" y1="134.1" x2="532.8" y2="158.4"/><line x1="544.6" y1="134.1" x2="556.4" y2="158.4"/><line x1="544.6" y1="134.1" x2="568.9" y2="158.4"/><line x1="544.6" y1="146.6" x2="520.3" y2="158.4"/><line x1="544.6" y1="146.6" x2="532.8" y2="158.4"/><line x1="544.6" y1="146.6" x2="556.4" y2="158.4"/><line x1="544.6" y1="146.6" x2="568.9" y2="158.4"/><line x1="544.6" y1="170.2" x2="520.3" y2="158.4"/><line x1="544.6" y1="170.2" x2="532.8" y2="158.4"/><line x1="544.6" y1="170.2" x2="556.4" y2="158.4"/><line x1="544.6" y1="170.2" x2="568.9" y2="158.4"/><line x1="544.6" y1="182.7" x2="520.3" y2="158.4"/><line x1="544.6" y1="182.7" x2="532.8" y2="158.4"/><line x1="544.6" y1="182.7" x2="556.4" y2="158.4"/><line x1="544.6" y1="182.7" x2="568.9" y2="158.4"/><line x1="544.6" y1="217.6" x2="520.3" y2="241.9"/><line x1="544.6" y1="217.6" x2="532.8" y2="241.9"/><line x1="544.6" y1="217.6" x2="556.4" y2="241.9"/><line x1="544.6" y1="217.6" x2="568.9" y2="241.9"/><line x1="544.6" y1="230.1" x2="520.3" y2="241.9"/><line x1="544.6" y1="230.1" x2="532.8" y2="241.9"/><line x1="544.6" y1="230.1" x2="556.4" y2="241.9"/><line x1="544.6" y1="230.1" x2="568.9" y2="241.9"/><line x1="544.6" y1="253.7" x2="520.3" y2="241.9"/><line x1="544.6" y1="253.7" x2="532.8" y2="241.9"/><line x1="544.6" y1="253.7" x2="556.4" y2="241.9"/><line x1="544.6" y1="253.7" x2="568.9" y2="241.9"/><line x1="544.6" y1="266.2" x2="520.3" y2="241.9"/><line x1="544.6" y1="266.2" x2="532.8" y2="241.9"/><line x1="544.6" y1="266.2" x2="556.4" y2="241.9"/><line x1="544.6" y1="266.2" x2="568.9" y2="241.9"/></g>
<g><circle cx="377.0" cy="50.4" r="2.5" fill="#000"/><circle cx="377.0" cy="62.9" r="2.5" fill="#000"/><circle cx="377.0" cy="86.5" r="2.5" fill="#000"/><circle cx="377.0" cy="99.0" r="2.5" fill="#000"/><circle cx="352.7" cy="74.7" r="2.5" fill="#000"/><circle cx="365.2" cy="74.7" r="2.5" fill="#000"/><circle cx="388.8" cy="74.7" r="2.5" fill="#000"/><circle cx="401.3" cy="74.7" r="2.5" fill="#000"/><circle cx="460.8" cy="50.4" r="2.5" fill="#000"/><circle cx="460.8" cy="62.9" r="2.5" fill="#000"/><circle cx="460.8" cy="86.5" r="2.5" fill="#000"/><circle cx="460.8" cy="99.0" r="2.5" fill="#000"/><circle cx="436.5" cy="74.7" r="2.5" fill="#000"/><circle cx="449.0" cy="74.7" r="2.5" fill="#000"/><circle cx="472.6" cy="74.7" r="2.5" fill="#000"/><circle cx="485.1" cy="74.7" r="2.5" fill="#000"/><circle cx="544.6" cy="50.4" r="3.8" fill="#1010e0" stroke="#111" stroke-width="1.4"/><circle cx="544.6" cy="62.9" r="3.8" fill="#10e010" stroke="#111" stroke-width="1.4"/><circle cx="544.6" cy="86.5" r="3.8" fill="#ee1010" stroke="#111" stroke-width="1.4"/><circle cx="544.6" cy="99.0" r="3.8" fill="#ff20ff" stroke="#111" stroke-width="1.4"/><circle cx="520.3" cy="74.7" r="3.8" fill="#1010e0" stroke="#111" stroke-width="1.4"/><circle cx="532.8" cy="74.7" r="3.8" fill="#10e010" stroke="#111" stroke-width="1.4"/><circle cx="556.4" cy="74.7" r="3.8" fill="#ee1010" stroke="#111" stroke-width="1.4"/><circle cx="568.9" cy="74.7" r="3.8" fill="#ff20ff" stroke="#111" stroke-width="1.4"/><circle cx="377.0" cy="134.1" r="2.5" fill="#000"/><circle cx="377.0" cy="146.6" r="2.5" fill="#000"/><circle cx="377.0" cy="170.2" r="2.5" fill="#000"/><circle cx="377.0" cy="182.7" r="2.5" fill="#000"/><circle cx="352.7" cy="158.4" r="2.5" fill="#000"/><circle cx="365.2" cy="158.4" r="2.5" fill="#000"/><circle cx="388.8" cy="158.4" r="2.5" fill="#000"/><circle cx="401.3" cy="158.4" r="2.5" fill="#000"/><circle cx="460.8" cy="134.1" r="3.8" fill="#fff000" stroke="#111" stroke-width="1.4"/><circle cx="460.8" cy="146.6" r="3.8" fill="#6aaad6" stroke="#111" stroke-width="1.4"/><circle cx="460.8" cy="170.2" r="3.8" fill="#10e8f8" stroke="#111" stroke-width="1.4"/><circle cx="460.8" cy="182.7" r="3.8" fill="#f2c418" stroke="#111" stroke-width="1.4"/><circle cx="436.5" cy="158.4" r="3.8" fill="#fff000" stroke="#111" stroke-width="1.4"/><circle cx="449.0" cy="158.4" r="3.8" fill="#6aaad6" stroke="#111" stroke-width="1.4"/><circle cx="472.6" cy="158.4" r="3.8" fill="#10e8f8" stroke="#111" stroke-width="1.4"/><circle cx="485.1" cy="158.4" r="3.8" fill="#f2c418" stroke="#111" stroke-width="1.4"/><circle cx="544.6" cy="134.1" r="3.8" fill="#fff000" stroke="#111" stroke-width="1.4"/><circle cx="544.6" cy="146.6" r="3.8" fill="#6aaad6" stroke="#111" stroke-width="1.4"/><circle cx="544.6" cy="170.2" r="3.8" fill="#10e8f8" stroke="#111" stroke-width="1.4"/><circle cx="544.6" cy="182.7" r="3.8" fill="#f2c418" stroke="#111" stroke-width="1.4"/><circle cx="520.3" cy="158.4" r="3.8" fill="#1010e0" stroke="#111" stroke-width="1.4"/><circle cx="532.8" cy="158.4" r="3.8" fill="#10e010" stroke="#111" stroke-width="1.4"/><circle cx="556.4" cy="158.4" r="3.8" fill="#ee1010" stroke="#111" stroke-width="1.4"/><circle cx="568.9" cy="158.4" r="3.8" fill="#ff20ff" stroke="#111" stroke-width="1.4"/><circle cx="377.0" cy="217.6" r="3.8" fill="#900808" stroke="#111" stroke-width="1.4"/><circle cx="377.0" cy="230.1" r="3.8" fill="#d4d4d4" stroke="#111" stroke-width="1.4"/><circle cx="377.0" cy="253.7" r="3.8" fill="#9cb08c" stroke="#111" stroke-width="1.4"/><circle cx="377.0" cy="266.2" r="3.8" fill="#80f2b8" stroke="#111" stroke-width="1.4"/><circle cx="352.7" cy="241.9" r="3.8" fill="#900808" stroke="#111" stroke-width="1.4"/><circle cx="365.2" cy="241.9" r="3.8" fill="#d4d4d4" stroke="#111" stroke-width="1.4"/><circle cx="388.8" cy="241.9" r="3.8" fill="#9cb08c" stroke="#111" stroke-width="1.4"/><circle cx="401.3" cy="241.9" r="3.8" fill="#80f2b8" stroke="#111" stroke-width="1.4"/><circle cx="460.8" cy="217.6" r="3.8" fill="#900808" stroke="#111" stroke-width="1.4"/><circle cx="460.8" cy="230.1" r="3.8" fill="#d4d4d4" stroke="#111" stroke-width="1.4"/><circle cx="460.8" cy="253.7" r="3.8" fill="#9cb08c" stroke="#111" stroke-width="1.4"/><circle cx="460.8" cy="266.2" r="3.8" fill="#80f2b8" stroke="#111" stroke-width="1.4"/><circle cx="436.5" cy="241.9" r="3.8" fill="#fff000" stroke="#111" stroke-width="1.4"/><circle cx="449.0" cy="241.9" r="3.8" fill="#6aaad6" stroke="#111" stroke-width="1.4"/><circle cx="472.6" cy="241.9" r="3.8" fill="#10e8f8" stroke="#111" stroke-width="1.4"/><circle cx="485.1" cy="241.9" r="3.8" fill="#f2c418" stroke="#111" stroke-width="1.4"/><circle cx="544.6" cy="217.6" r="3.8" fill="#900808" stroke="#111" stroke-width="1.4"/><circle cx="544.6" cy="230.1" r="3.8" fill="#d4d4d4" stroke="#111" stroke-width="1.4"/><circle cx="544.6" cy="253.7" r="3.8" fill="#9cb08c" stroke="#111" stroke-width="1.4"/><circle cx="544.6" cy="266.2" r="3.8" fill="#80f2b8" stroke="#111" stroke-width="1.4"/><circle cx="520.3" cy="241.9" r="3.8" fill="#1010e0" stroke="#111" stroke-width="1.4"/><circle cx="532.8" cy="241.9" r="3.8" fill="#10e010" stroke="#111" stroke-width="1.4"/><circle cx="556.4" cy="241.9" r="3.8" fill="#ee1010" stroke="#111" stroke-width="1.4"/><circle cx="568.9" cy="241.9" r="3.8" fill="#ff20ff" stroke="#111" stroke-width="1.4"/></g>
<path d="M641.2 305.8 V179" stroke="#000" stroke-width="1.9" fill="none"/>
<path d="M641.20 162.30 L648.70 187.00 L641.20 181.00 L633.70 187.00 Z" fill="#000"/>
<path d="M640.25 304.9 H881" stroke="#000" stroke-width="1.9" fill="none"/>
<path d="M899.00 304.90 L874.25 312.15 L879.75 304.90 L874.25 297.65 Z" fill="#000"/>
<path d="M658.8 182.5 C664 178, 668 172, 672 178 C676 184, 676 205, 680 213 C682.5 218, 686 212, 690 204 C696 194, 702 188, 707 192 C713 197, 712 230, 715 246 C717 256, 722 256, 726 250 C733 240, 738 233, 745 235 C752 238, 757 260, 764 279 C767 288, 775 287, 780.5 272 C786 255, 790 232, 798 231 C806 230, 810 258, 818 258 C826 258, 832 206, 840 205.5 C848 205, 852 239, 858.7 239.3 C865 239, 870 210, 876.2 200.8" fill="none" stroke="#b4b4b4" stroke-width="1.6" stroke-dasharray="4.5 3"/>
<circle cx="680.8" cy="212" r="7" fill="#d2d2d2" fill-opacity="0.8" stroke="#707070" stroke-width="1.3"/>
<circle cx="719.8" cy="253" r="7" fill="#d2d2d2" fill-opacity="0.8" stroke="#707070" stroke-width="1.3"/>
<circle cx="771.3" cy="282" r="9.6" fill="#f07070" fill-opacity="0.88" stroke="#707070" stroke-width="1.3"/>
<path d="M685.5 217.0 L709.6 242.2" stroke="#2233ee" stroke-width="1.7" stroke-dasharray="4 2.5" fill="none"/>
<path d="M713.8 246.5 L704.3 243.1 L709.6 242.2 L710.8 236.9 Z" fill="#2233ee"/>
<path d="M727.5 256.0 L759.9 272.3" stroke="#2233ee" stroke-width="1.7" stroke-dasharray="4 2.5" fill="none"/>
<path d="M765.3 275.0 L755.2 275.0 L759.9 272.3 L759.3 266.9 Z" fill="#2233ee"/>
<text transform="translate(670.26 255.50) scale(0.9896 1)" font-size="17.2" fill="#1a2aee" stroke="#1a2aee" stroke-width="0.1" font-family="Liberation Sans, sans-serif">QA</text>
<text transform="translate(782.68 293.20) scale(1.0206 1)" font-size="17.1" fill="#000" stroke="#000" stroke-width="0.1" font-family="Liberation Sans, sans-serif">Ground state</text>
<text transform="translate(675.09 328.70) scale(1.0096 1)" font-size="17.2" fill="#000" stroke="#000" stroke-width="0.1" font-family="Liberation Sans, sans-serif">Spin state configuration</text>
<g transform="translate(628.0 266.3) rotate(-90)">
<text transform="translate(-0.99 0.00) scale(0.9906 1)" font-size="17.2" fill="#000" stroke="#000" stroke-width="0.1" font-family="Liberation Sans, sans-serif">Energy</text>
</g>
<rect x="272.5" y="385.5" width="355" height="121.5" rx="6" fill="#f6f5f3" stroke="#8c8c8c" stroke-width="1.5" stroke-dasharray="6.2 4.2"/>
<defs><radialGradient id="bgimg" cx="0.5" cy="0.55" r="0.6"><stop offset="0" stop-color="#ffffff"/><stop offset="0.8" stop-color="#fdfcfa"/><stop offset="1" stop-color="#f6f5f3"/></radialGradient></defs>
<rect x="306.5" y="393" width="76" height="67" fill="url(#bgimg)"/>
<polygon points="308.8,417.2 331.0,448.1 331.5,454.1 309.8,423.2" fill="#f6dc00"/>
<polygon points="331.0,448.1 377.1,427.0 377.1,432.5 331.5,454.1" fill="#e9c900"/>
<polygon points="308.8,417.2 331.0,448.1 377.1,427.0 344.0,403.0" fill="#1b4aa6"/>
<g transform="rotate(10 318 414.5)"><ellipse cx="318.0" cy="422.0" rx="7.8" ry="5.0" fill="#b39400"/><rect x="310.2" y="414.5" width="15.6" height="7.5" fill="#c4a300"/><ellipse cx="318.0" cy="414.5" rx="7.8" ry="5.0" fill="#eac516"/></g>
<g transform="rotate(8 349.4 405)"><ellipse cx="349.4" cy="412.0" rx="7.0" ry="4.2" fill="#b39400"/><rect x="342.4" y="405.0" width="14.0" height="7.0" fill="#c4a300"/><ellipse cx="349.4" cy="405.0" rx="7.0" ry="4.2" fill="#eac516"/></g>
<g transform="rotate(12 367 417)"><ellipse cx="367.0" cy="425.0" rx="7.8" ry="5.0" fill="#b39400"/><rect x="359.2" y="417.0" width="15.6" height="8.0" fill="#c4a300"/><ellipse cx="367.0" cy="417.0" rx="7.8" ry="5.0" fill="#eac516"/></g>
<path d="M329 413 Q349 420 356 443 Q335 436 329 413 Z" fill="#b39400"/>
<polygon points="330.5,406.4 329,413 356,443 355.4,434.7" fill="#c4a300"/>
<path d="M330.5 406.4 Q349.5 413 355.4 434.7 Q335.5 428 330.5 406.4 Z" fill="#eac516"/>
<g transform="rotate(0 331.8 431.5)"><ellipse cx="331.8" cy="439.5" rx="9.2" ry="6.8" fill="#b39400"/><rect x="322.6" y="431.5" width="18.4" height="8.0" fill="#c4a300"/><ellipse cx="331.8" cy="431.5" rx="9.2" ry="6.8" fill="#eac516"/></g>
<text transform="translate(275.63 477.80) scale(1.0726 1)" font-size="19.5" fill="#000" stroke="#000" stroke-width="0.1" font-family="Liberation Sans, sans-serif">meta-structure</text>
<text transform="translate(311.90 497.00) scale(1.0964 1)" font-size="19.5" fill="#000" stroke="#000" stroke-width="0.1" font-family="Liberation Sans, sans-serif">design</text>
<polygon points="400,429.2 412.1,418.3 412.1,422.1 438.3,422.1 438.3,418.3 450,429.2 438.3,439.6 438.3,435.4 412.1,435.4 412.1,439.6" fill="#c2c2c2" stroke="#fff" stroke-width="1.2"/>
<path d="M477.60 443 V413.5 Q477.60 411.8 479.20 411.8 H487.20 Q488.80 411.8 488.80 413.5 V443 H493.80 L483.20 454 L472.60 443 Z" fill="#93a886" stroke="#1a1a1a" stroke-width="1.4" stroke-linejoin="round"/>
<path d="M500.60 422.3 V452.3 Q500.60 454 502.20 454 H511.60 Q513.20 454 513.20 452.3 V422.3 H517.50 L506.90 411.6 L496.30 422.3 Z" fill="#8ec6ee" stroke="#1a1a1a" stroke-width="1.4" stroke-linejoin="round"/>
<path d="M524.30 422.3 V452.3 Q524.30 454 525.90 454 H535.30 Q536.90 454 536.90 452.3 V422.3 H541.20 L530.60 411.6 L520.00 422.3 Z" fill="#8ec6ee" stroke="#1a1a1a" stroke-width="1.4" stroke-linejoin="round"/>
<path d="M548.80 443 V413.5 Q548.80 411.8 550.40 411.8 H558.40 Q560.00 411.8 560.00 413.5 V443 H565.00 L554.40 454 L543.80 443 Z" fill="#93a886" stroke="#1a1a1a" stroke-width="1.4" stroke-linejoin="round"/>
<path d="M595.40 443 V413.5 Q595.40 411.8 597.00 411.8 H605.00 Q606.60 411.8 606.60 413.5 V443 H611.60 L601.00 454 L590.40 443 Z" fill="#93a886" stroke="#1a1a1a" stroke-width="1.4" stroke-linejoin="round"/>
<circle cx="568.1" cy="429" r="2.3" fill="none" stroke="#111" stroke-width="1.3"/>
<circle cx="576.3" cy="429" r="2.3" fill="none" stroke="#111" stroke-width="1.3"/>
<circle cx="584.7" cy="429" r="2.3" fill="none" stroke="#111" stroke-width="1.3"/>
<text transform="translate(477.10 404.20) scale(1.0000 1)" font-size="20.5" fill="#000" stroke="#000" stroke-width="0.2" font-family="Liberation Sans, sans-serif">0</text>
<text transform="translate(548.40 404.20) scale(1.0000 1)" font-size="20.5" fill="#000" stroke="#000" stroke-width="0.2" font-family="Liberation Sans, sans-serif">0</text>
<text transform="translate(595.90 404.20) scale(1.0000 1)" font-size="20.5" fill="#000" stroke="#000" stroke-width="0.2" font-family="Liberation Sans, sans-serif">0</text>
<path d="M507.7 404.6 V390.2 M507.7 390.3 Q505.3 392.6 503.1 394.2" fill="none" stroke="#000" stroke-width="1.7" stroke-linecap="round"/>
<path d="M531.4 404.6 V390.2 M531.4 390.3 Q529.0 392.6 526.8 394.2" fill="none" stroke="#000" stroke-width="1.7" stroke-linecap="round"/>
<path d="M464.2 449 V457.3 H619.75 V448.3" fill="none" stroke="#111" stroke-width="1.5"/>
<text transform="translate(478.14 477.50) scale(1.0645 1)" font-size="19.8" fill="#000" stroke="#000" stroke-width="0.1" font-family="Liberation Sans, sans-serif">n-dimensional</text>
<text transform="translate(483.64 498.70) scale(1.0589 1)" font-size="19.8" fill="#000" stroke="#000" stroke-width="0.1" font-family="Liberation Sans, sans-serif">binary vector</text></svg>
</body></html>
